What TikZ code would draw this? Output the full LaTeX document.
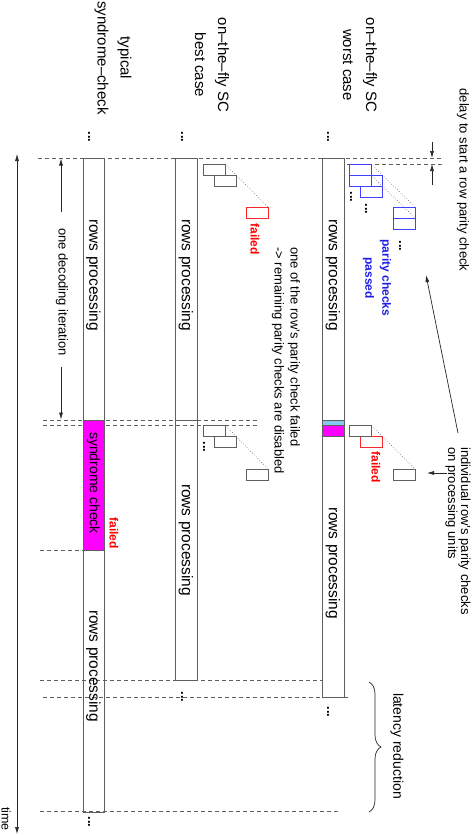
\documentclass[tikz,border=0pt]{standalone}
\usepackage{fontspec}
\setmainfont{Liberation Sans}
\usetikzlibrary{arrows.meta,decorations.pathreplacing}
\definecolor{lblue}{RGB}{130,200,240}
\definecolor{mag}{RGB}{255,0,255}
\definecolor{pblue}{RGB}{30,30,230}
\definecolor{lgray}{RGB}{95,95,95}
\begin{document}
\begin{tikzpicture}[x=1pt,y=-1pt,
  bar/.style={draw=lgray, line width=0.9pt, fill=white},
  pb/.style={draw=lgray, fill=white, line width=0.7pt, minimum width=22pt, minimum height=11pt, inner sep=0pt, outer sep=0pt},
  bluebox/.style={pb, draw=blue!75},
  redbox/.style={pb, draw=red!85},
  dline/.style={dash pattern=on 4pt off 3pt, draw=lgray, line width=0.8pt},
  dotl/.style={dotted, draw=lgray, line width=0.6pt},
  vtext/.style={rotate=-90, inner sep=0pt},
  lab/.style={vtext, align=center, font=\fontsize{15}{23}\selectfont},
  rp/.style={vtext, font=\fontsize{15.5}{18}\selectfont},
  note/.style={vtext, font=\fontsize{13}{16}\selectfont},
  vd/.style={vtext, font=\bfseries\fontsize{13}{13}\selectfont},
  fail/.style={vtext, text=red, font=\bfseries\fontsize{12}{14}\selectfont},
  arr/.style={-{Latex[length=7pt,width=4pt]}, draw=black!85, line width=0.7pt},
  arrb/.style={{Latex[length=7pt,width=4pt]}-{Latex[length=7pt,width=4pt]}, draw=black!85, line width=0.7pt}
]
\useasboundingbox (0,0) rectangle (474,835);

% column labels
\node[lab] (labT) at (113,58) {typical\\syndrome--check};
\node[lab] (labB) at (212,65) {on--the--fly SC\\best case};
\node[lab] (labW) at (360,65) {on--the--fly SC\\worst case};
\node[vd] (dT0) at (89,137) {...};
\node[vd] (dB0) at (182,137) {...};
\node[vd] (dW0) at (328,137) {...};

% bars
\path[bar] (83,158) rectangle (104,812);
\path[bar] (175,158) rectangle (197,680);
\path[bar] (322,158) rectangle (344,697);
\draw[draw=lgray, line width=0.9pt] (175,420) -- (197,420);

% dashed time marks
\draw[dline] (38,158) -- (443,158);
\draw[dline] (347,164) -- (443,164);
\draw[dline] (43,420) -- (258,420);
\draw[dline] (43,425) -- (258,425);
\draw[dline] (40,550) -- (83,550);
\draw[dline] (40,680) -- (322,680);
\draw[dline] (43,697) -- (350,697);
\draw[dline] (40,811) -- (340,811);

% coloured segments
\path[draw=lgray, line width=0.9pt, fill=mag] (83,420) rectangle (104,550);
\path[draw=lgray, line width=0.9pt, fill=lblue] (322,420) rectangle (344,425);
\path[draw=lgray, line width=0.9pt, fill=mag] (322,425) rectangle (344,436);

% bar texts
\node[rp] (rpT1) at (93.5,275) {rows processing};
\node[rp] (rpT2) at (93.5,666) {rows processing};
\node[rp] (rpB1) at (186,275) {rows processing};
\node[rp] (rpB2) at (186,540) {rows processing};
\node[rp] (rpW1) at (333,275) {rows processing};
\node[rp] (rpW2) at (333,563) {rows processing};
\node[vtext, font=\fontsize{14}{16}\selectfont] (sc) at (93.5,483) {syndrome check};
\node[fail] (fT) at (114,533) {failed};
\node[vd] (dT1) at (89,822) {...};
\node[vd] (dB1) at (182,697) {...};
\node[vd] (dW1) at (328,712) {...};

% worst case, first iteration: passed checks
\node[bluebox] (W1) at (360,169.5) {};
\node[bluebox] (W3) at (371,180.5) {};
\node[bluebox] (W2) at (360,180.5) {};
\node[bluebox] (W4) at (371,191.5) {};
\node[bluebox] (F1) at (404,212.5) {};
\node[bluebox] (F2) at (404,223.5) {};
\draw[dotl] (W1.north east) -- (F1.north east);
\draw[dotl] (W2.north east) -- (F2.north east);
\node[vd] (dW2) at (351,197) {...};
\node[vd] (dW3) at (366,209) {...};
\node[vd] (dW4) at (400,246) {...};
\node[vtext, align=center, text=pblue, font=\bfseries\fontsize{12}{17}\selectfont] (pass) at (377,278) {parity checks\\passed};

% worst case, second iteration
\node[redbox] (M2) at (371,441.5) {};
\node[pb] (M1) at (360,430.5) {};
\node[pb] (M3) at (404,474.5) {};
\draw[dotl] (M1.north east) -- (M3.north east);
\node[fail] (fW) at (376,467) {failed};

% best case, first iteration
\node[pb] (B1) at (214,169.5) {};
\node[pb] (B2) at (225,180.5) {};
\node[redbox] (R1) at (257,212.5) {};
\draw[dotl] (B1.north east) -- (R1.north east);
\node[fail] (fB) at (255,239) {failed};
\node[note, align=left, anchor=west] (oneof) at (286,247) {one of the row's parity check failed\\-> remaining parity checks are disabled};

% best case, second iteration
\node[pb] (B3) at (214,430.5) {};
\node[pb] (B4) at (225,441.5) {};
\node[pb] (B5) at (257,474.5) {};
\draw[dotl] (B3.north east) -- (B5.north east);
\node[vd] (dB2) at (204,447) {...};

% annotations right
\node[note] (delay) at (463,180) {delay to start a row parity check};
\coordinate (d1) at (432,142);
\coordinate (d2) at (432,158);
\coordinate (d3) at (432,185);
\coordinate (d4) at (432,164);
\draw[arr] (d1) -- (d2);
\draw[arr] (d3) -- (d4);

\node[vtext, align=left, anchor=west, font=\fontsize{13}{11.5}\selectfont] (indiv) at (458,447) {individual row's parity checks\\on processing units};
\coordinate (ia1) at (458,433);
\coordinate (ia2) at (426,275);
\coordinate (ib1) at (447,473);
\coordinate (ib2) at (427,473);
\draw[arr] (ia1) -- (ia2);
\draw[arr] (ib1) -- (ib2);

% latency reduction
\coordinate (br1) at (369,682);
\coordinate (br2) at (369,812);
\draw[draw=black!85, line width=0.7pt, decorate, decoration={brace, amplitude=12pt}] (br1) -- (br2);
\node[vtext, font=\fontsize{14}{16}\selectfont] (lat) at (397,746) {latency reduction};

% decoding iteration
\node[vtext, font=\fontsize{13}{16}\selectfont] (iter) at (62,292) {one decoding iteration};
\coordinate (i1) at (61,212);
\coordinate (i2) at (61,158.5);
\coordinate (i3) at (61,367);
\coordinate (i4) at (61,419.5);
\draw[arr] (i1) -- (i2);
\draw[arr] (i3) -- (i4);

% time axis
\coordinate (t0) at (17,154);
\coordinate (t1) at (17,834);
\draw[arrb] (t0) -- (t1);
\node[vtext, font=\fontsize{12.5}{14}\selectfont] (time) at (6,819) {time};
\end{tikzpicture}
\end{document}
